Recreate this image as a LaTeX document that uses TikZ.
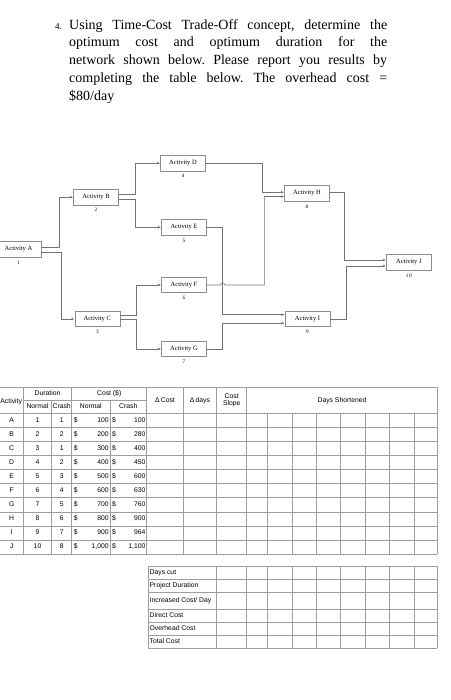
\documentclass[tikz,border=0pt]{standalone}
\usepackage{fontspec}
\setmainfont{Liberation Serif}
\newfontfamily\tabfont{Liberation Sans}
\usetikzlibrary{arrows.meta}
\definecolor{linegray}{gray}{0.45}
\definecolor{boxgray}{gray}{0.55}
\definecolor{gridgray}{gray}{0.62}
\frenchspacing
\begin{document}
\begin{tikzpicture}[x=1pt,y=-1pt,
  actbox/.style={draw=boxgray, line width=0.6pt, minimum width=45pt, minimum height=15.5pt, inner sep=0pt, font=\fontsize{6.5}{7}\selectfont},
  num/.style={font=\fontsize{5.2}{6}\selectfont, inner sep=0pt},
  conn/.style={draw=linegray, line width=0.55pt, -{Latex[length=3pt,width=2.4pt,fill=black]}},
  titleline/.style={anchor=base west, inner sep=0pt, font=\fontsize{14}{17}\selectfont},
  tc/.style={inner sep=0pt, text height=4.8pt, text depth=1.4pt, font=\tabfont\fontsize{6.8}{7.5}\selectfont},
  grid/.style={draw=gridgray, line width=0.5pt}
]
\fill[white] (0,0) rectangle (450,700);
\useasboundingbox (0,0) rectangle (450,700);

% ---- title ----
\node[anchor=base west, inner sep=0pt, font=\fontsize{9}{10}\selectfont] (qn) at (55,29.3) {4.};
\node[titleline] (t1) at (69,29.3) {\makebox[318pt][s]{Using Time-Cost Trade-Off concept, determine the}};
\node[titleline] (t2) at (69,47.0) {\makebox[318pt][s]{optimum cost and optimum duration for the}};
\node[titleline] (t3) at (69,64.7) {\makebox[318pt][s]{network shown below. Please report you results by}};
\node[titleline] (t4) at (69,82.4) {\makebox[318pt][s]{completing the table below. The overhead cost =}};
\node[titleline] (t5) at (69,100.1) {\$80/day};

% ---- network ----
\node[actbox] (A) at (18.5,249.5) {Activity A};
\node[actbox] (B) at (96,197.2) {Activity B};
\node[actbox] (C) at (97.3,319) {Activity C};
\node[actbox] (D) at (183,163.2) {Activity D};
\node[actbox] (E) at (184,227.3) {Activity E};
\node[actbox] (F) at (184,285) {Activity F};
\node[actbox] (G) at (184,349) {Activity G};
\node[actbox] (H) at (307,193.3) {Activity H};
\node[actbox] (I) at (307.5,319) {Activity I};
\node[actbox] (J) at (408.8,262.3) {Activity J};

\node[num] (nA) at ([yshift=-5pt]A.south) {1};
\node[num] (nB) at ([yshift=-5pt]B.south) {2};
\node[num] (nC) at ([yshift=-5pt]C.south) {3};
\node[num] (nD) at ([yshift=-5pt]D.south) {4};
\node[num] (nE) at ([yshift=-5pt]E.south) {5};
\node[num] (nF) at ([yshift=-5pt]F.south) {6};
\node[num] (nG) at ([yshift=-5pt]G.south) {7};
\node[num] (nH) at ([yshift=-5pt]H.south) {8};
\node[num] (nI) at ([yshift=-5pt]I.south) {9};
\node[num] (nJ) at ([yshift=-5pt]J.south) {1\hspace{0.8pt}0};

\draw[conn] ([yshift=2.2pt]A.east) -- ++(18,0) |- (B.west);
\draw[conn] ([yshift=-2.8pt]A.east) -- ++(20,0) |- (C.west);
\draw[conn] ([yshift=2.9pt]B.east) -- ++(16.7,0) |- (D.west);
\draw[conn] ([yshift=-1.8pt]B.east) -- ++(16,0) |- (E.west);
\draw[conn] ([yshift=3.3pt]C.east) -- ++(16,0) |- (F.west);
\draw[conn] ([yshift=-0.5pt]C.east) -- ++(15.7,0) |- (G.west);
\draw[conn] (D.east) -- ++(56.8,0) |- ([yshift=1pt]H.west);
\draw[conn] (F.east) -- (220.6,285) .. controls (220.6,282.2) and (224.8,282.2) .. (224.8,285) -- (264.4,285) |- ([yshift=-3.2pt]H.west);
\draw[conn] (E.east) -- (222.7,227.3) |- ([yshift=4.3pt]I.west);
\draw[conn] (G.east) -- (222.7,349) |- ([yshift=-4.3pt]I.west);
\draw[conn] ([yshift=0.6pt]H.east) -- (344.3,192.7) |- ([yshift=2.3pt]J.west);
\draw[conn] (I.east) -- (346.7,319) |- ([yshift=-3.7pt]J.west);

% ---- main table grid ----
\draw[grid] (0,387.3) -- (437.3,387.3);
\draw[grid] (23.3,400.7) -- (146.7,400.7);
\foreach \k in {0,...,10} {
  \draw[grid] (0,{413.3+\k*14.07}) -- (437.3,{413.3+\k*14.07});
}
\foreach \xx in {23.3,71.7,146.7,183.3,216.7,246.7,437.3} {
  \draw[grid] (\xx,387.3) -- (\xx,554);
}
\foreach \xx in {51.7,110} {
  \draw[grid] (\xx,400.7) -- (\xx,554);
}
\foreach \xx in {267.7,292.3,316.7,340.7,365,389.3,414.3} {
  \draw[grid] (\xx,413.3) -- (\xx,554);
}

% header
\node[tc] (hAct) at (11.2,401.5) {Activity};
\node[tc] (hDur) at (47.5,394) {Duration};
\node[tc] (hCost) at (109.2,394) {Cost (\$)};
\node[tc] (hDN) at (37.5,407.2) {Normal};
\node[tc] (hDC) at (61.7,407.2) {Crash};
\node[tc] (hCN) at (90.8,407.2) {Normal};
\node[tc] (hCC) at (128.3,407.2) {Crash};
\node[tc] (hDcost) at (165,400.3) {Δ\,Cost};
\node[tc] (hDdays) at (200,400.3) {Δ\,days};
\node[inner sep=0pt, align=center, font=\tabfont\fontsize{6.8}{7}\selectfont] (hSlope) at (231.7,400.3) {Cost\\Slope};
\node[tc] (hDS) at (342,400.3) {Days Shortened};

% body
\foreach \L/\dn/\dc/\cn/\cc [count=\i] in {A/1/1/100/100, B/2/2/200/280, C/3/1/300/400, D/4/2/400/450, E/5/3/500/600, F/6/4/600/630, G/7/5/700/760, H/8/6/800/900, I/9/7/900/964, J/10/8/1{,}000/1{,}100} {
  \pgfmathsetmacro\yy{413.3+(\i-0.5)*14.07}
  \node[tc] (act\i) at (11.7,\yy) {\L};
  \node[tc] (dn\i) at (37.5,\yy) {\dn};
  \node[tc] (dc\i) at (61.7,\yy) {\dc};
  \node[tc, anchor=west] (sn\i) at (73.6,\yy) {\$};
  \node[tc, anchor=east] (cn\i) at (108.8,\yy) {\cn};
  \node[tc, anchor=west] (sc\i) at (111.8,\yy) {\$};
  \node[tc, anchor=east] (cc\i) at (145.6,\yy) {\cc};
}

% ---- second table ----
\foreach \yv in {566,579.3,592.3,609.3,622.7,635.7,648} {
  \draw[grid] (148.3,\yv) -- (437.3,\yv);
}
\foreach \xx in {148.3,216.7,246.7,267.7,292.3,316.7,340.7,365,389.3,414.3,437.3} {
  \draw[grid] (\xx,566) -- (\xx,648);
}
\node[tc, anchor=west] (r1) at (149.5,572.7) {Days cut};
\node[tc, anchor=west] (r2) at (149.5,585.8) {Project Duration};
\node[tc, anchor=west] (r3) at (149.5,600.8) {Increased Cost/ Day};
\node[tc, anchor=west] (r4) at (149.5,616) {Direct Cost};
\node[tc, anchor=west] (r5) at (149.5,629.2) {Overhead Cost};
\node[tc, anchor=west] (r6) at (149.5,641.9) {Total Cost};
\end{tikzpicture}
\end{document}
